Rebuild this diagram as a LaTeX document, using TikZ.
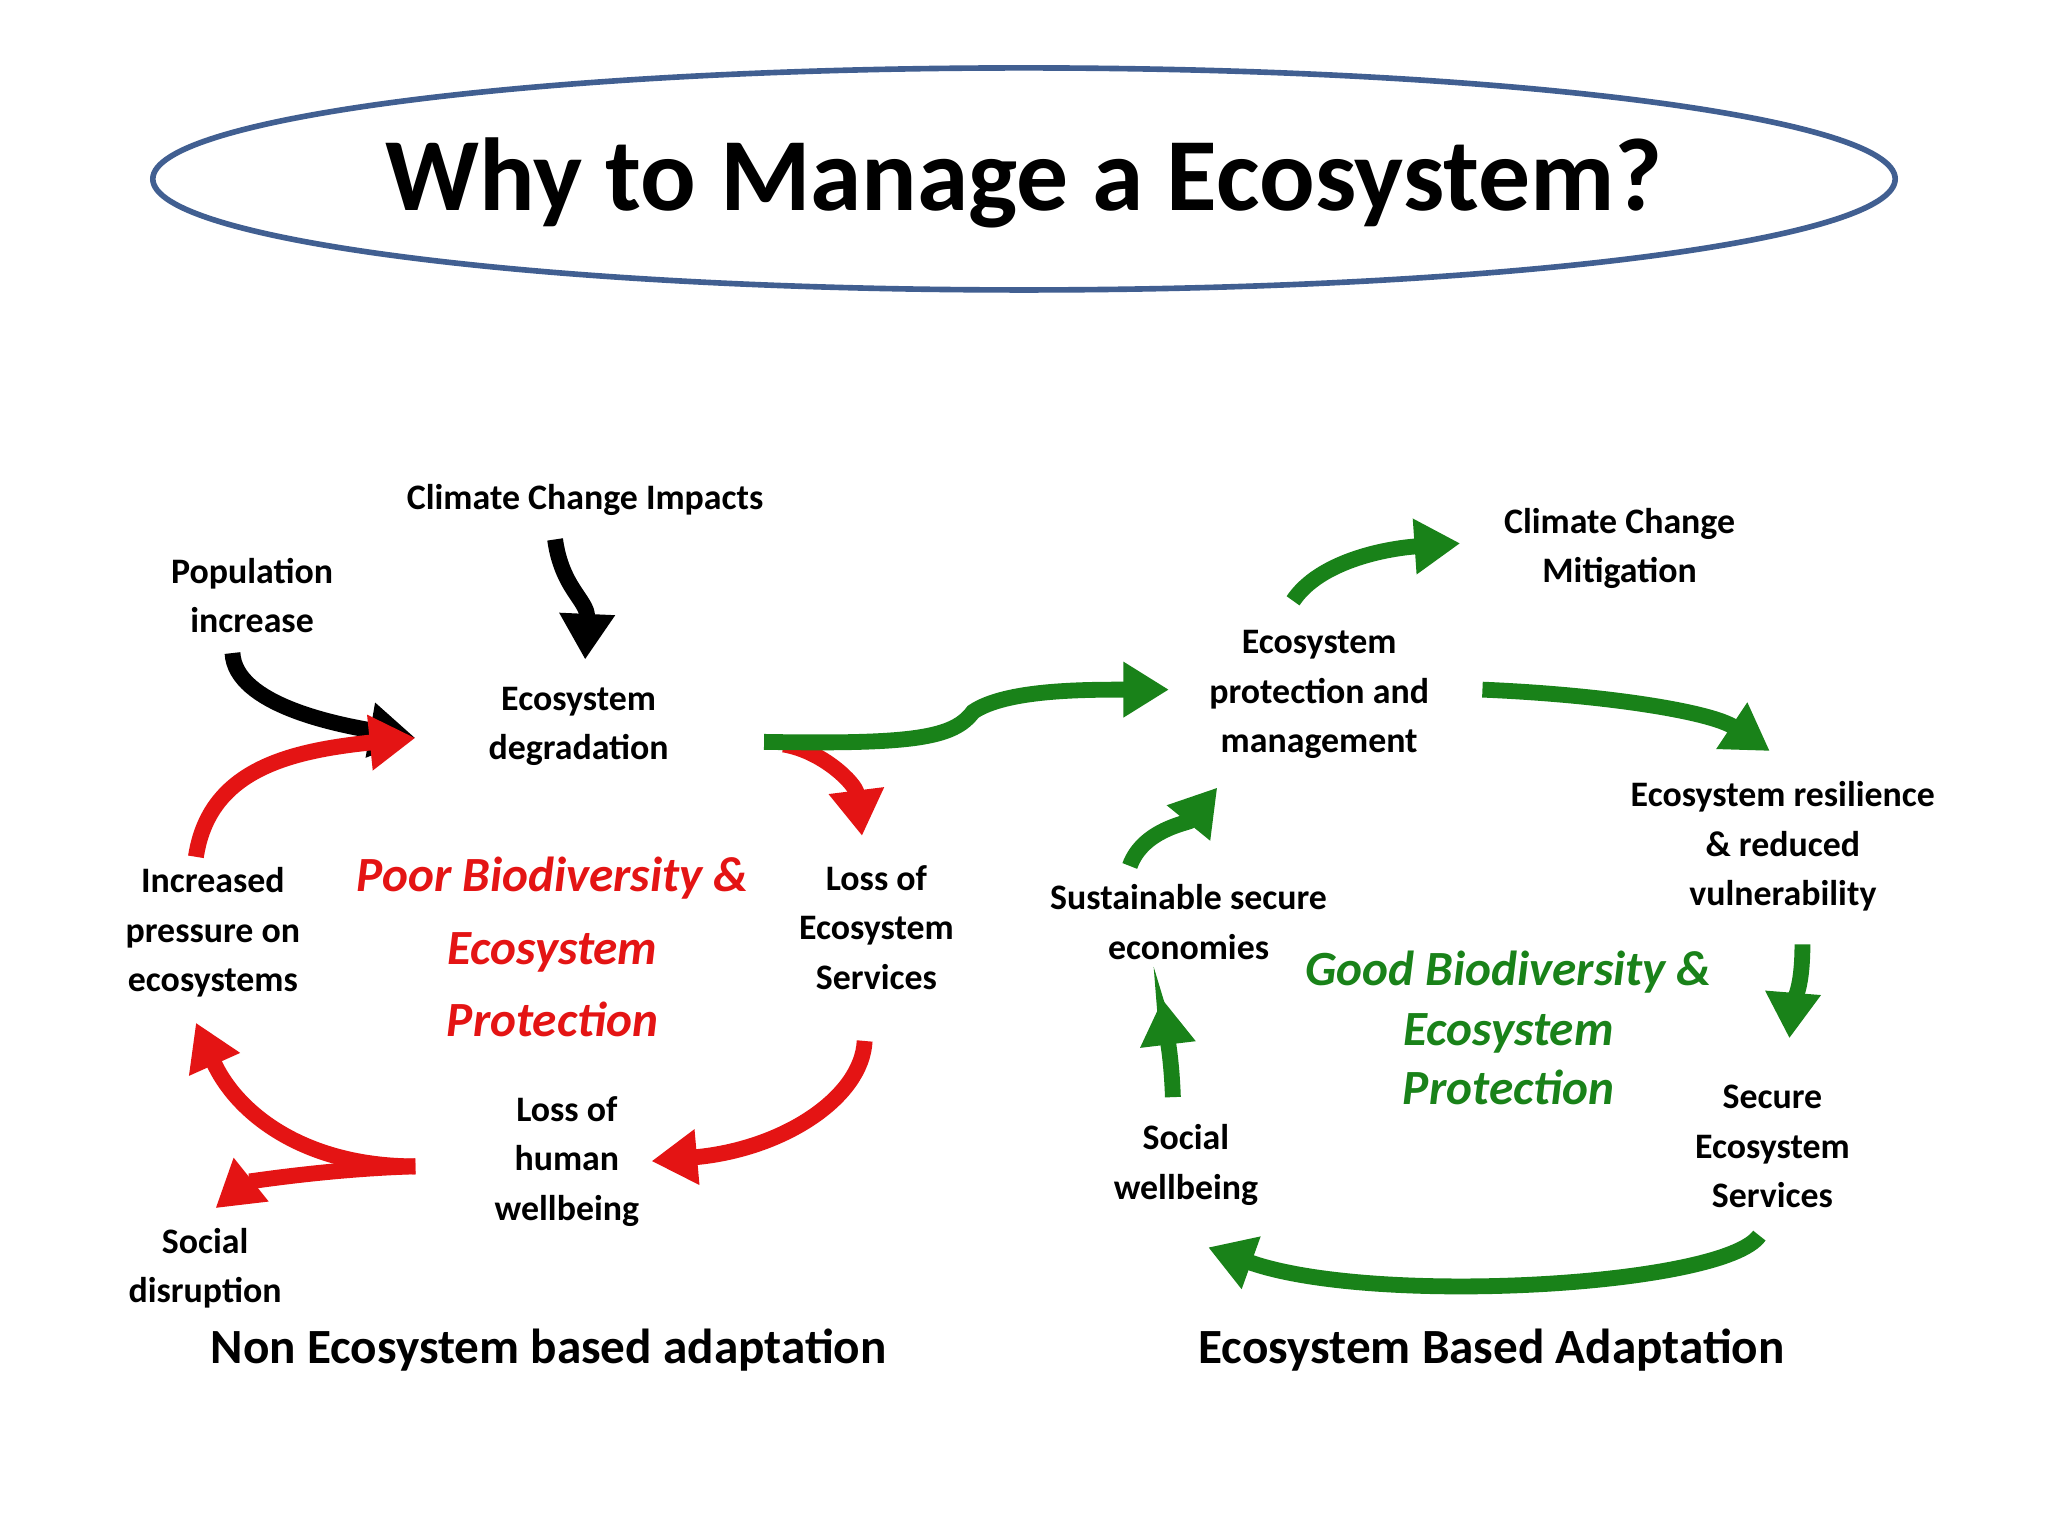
\documentclass[tikz,border=0pt]{standalone}
\usepackage{fontspec}
\setmainfont{Carlito}
\usetikzlibrary{arrows.meta}
\definecolor{ttlblue}{RGB}{65,95,145}
\definecolor{arred}{RGB}{228,20,20}
\definecolor{argreen}{RGB}{25,130,25}
\tikzset{
  lbl/.style={align=center, font=\fontsize{10.2}{14.1}\selectfont\bfseries},
  big/.style={align=center, font=\fontsize{14}{20.6}\selectfont\bfseries\itshape},
  foot/.style={font=\fontsize{14}{17}\selectfont\bfseries},
  bigarrow/.style={line width=4.5pt, -{Triangle[length=13pt,width=15pt]}},
}
\begin{document}
\begin{tikzpicture}[x=0.01306cm, y=-0.01306cm]
  \useasboundingbox (0,0) rectangle (1568,1176);
  \fill[white] (0,0) rectangle (1568,1176);
  \draw[ttlblue, line width=1.6pt] (784,137) ellipse [x radius=667, y radius=85];
  \node[font=\fontsize{29.5}{34}\selectfont\bfseries] (ttl) at (784,140) {Why to Manage a Ecosystem?};

  % left cycle
  \node[lbl] (cci) at (448,383) {Climate Change Impacts};
  \node[lbl] (pop) at (193,456) {Population\\increase};
  \node[lbl] (deg) at (443,556) {Ecosystem\\degradation};
  \node[lbl] (inc) at (163,714) {Increased\\pressure on\\ecosystems};
  \node[lbl] (loss) at (671,710) {Loss of\\Ecosystem\\Services};
  \node[lbl] (hum) at (434,889) {Loss of\\human\\wellbeing};
  \node[lbl] (soc) at (157,971) {Social\\disruption};
  \node[big, text=arred] (poor) at (423,725) {Poor Biodiversity \&\\Ecosystem\\Protection};
  \node[foot] (nonlab) at (420,1034) {Non Ecosystem based adaptation};

  % right cycle
  \node[lbl] (prot) at (1010,532) {Ecosystem\\protection and\\management};
  \node[lbl] (ccm) at (1240,420) {Climate Change\\Mitigation};
  \node[lbl] (res) at (1365,648) {Ecosystem resilience\\\& reduced\\vulnerability};
  \node[lbl] (sec) at (1357,878) {Secure\\Ecosystem\\Services};
  \node[lbl] (sw) at (908,892) {Social\\wellbeing};
  \node[lbl] (sus) at (910,706) {Sustainable secure\\economies};
  \node[big, text=argreen, font=\fontsize{14}{16.8}\selectfont\bfseries\itshape] (good) at (1155,787) {Good Biodiversity \&\\Ecosystem\\Protection};
  \node[foot] (eba) at (1142,1034) {Ecosystem Based Adaptation};

  % arrow ends
  \coordinate (degin) at (318,565);
  \coordinate (degout) at (585,568);
  \coordinate (split) at (318,893);
  \coordinate (protin) at (895,528);

  \draw[bigarrow, black] (425,413) .. controls (430,450) and (450,460) .. (448,505);
  \draw[bigarrow, black] (178,500) .. controls (180,540) and (260,555) .. (degin);
  \draw[bigarrow, arred] (150,656) .. controls (160,590) and (220,575) .. (degin);
  \draw[bigarrow, arred] (600,570) .. controls (630,575) and (655,600) .. (660,640);
  \draw[bigarrow, arred] (662,797) .. controls (660,840) and (600,880) .. (hum.east);
  \draw[bigarrow, arred] (split) .. controls (230,893) and (180,850) .. (150,783);
  \draw[bigarrow, arred] (split) .. controls (250,895) and (190,905) .. (165,925);

  \draw[bigarrow, argreen] (degout) .. controls (700,570) and (730,565) .. (745,545) .. controls (770,528) and (830,528) .. (protin);
  \draw[bigarrow, argreen] (990,460) .. controls (1010,430) and (1060,420) .. (1118,416);
  \draw[bigarrow, argreen] (1135,528) .. controls (1230,532) and (1310,545) .. (1355,575);
  \draw[bigarrow, argreen] (1380,723) .. controls (1380,760) and (1372,770) .. (1370,795);
  \draw[bigarrow, argreen] (1347,946) .. controls (1320,985) and (1050,1000) .. (925,955);
  \draw[bigarrow, argreen] (898,840) .. controls (897,810) and (893,790) .. (890,765);
  \draw[bigarrow, argreen] (865,663) .. controls (875,635) and (910,630) .. (932,603);
\end{tikzpicture}
\end{document}
